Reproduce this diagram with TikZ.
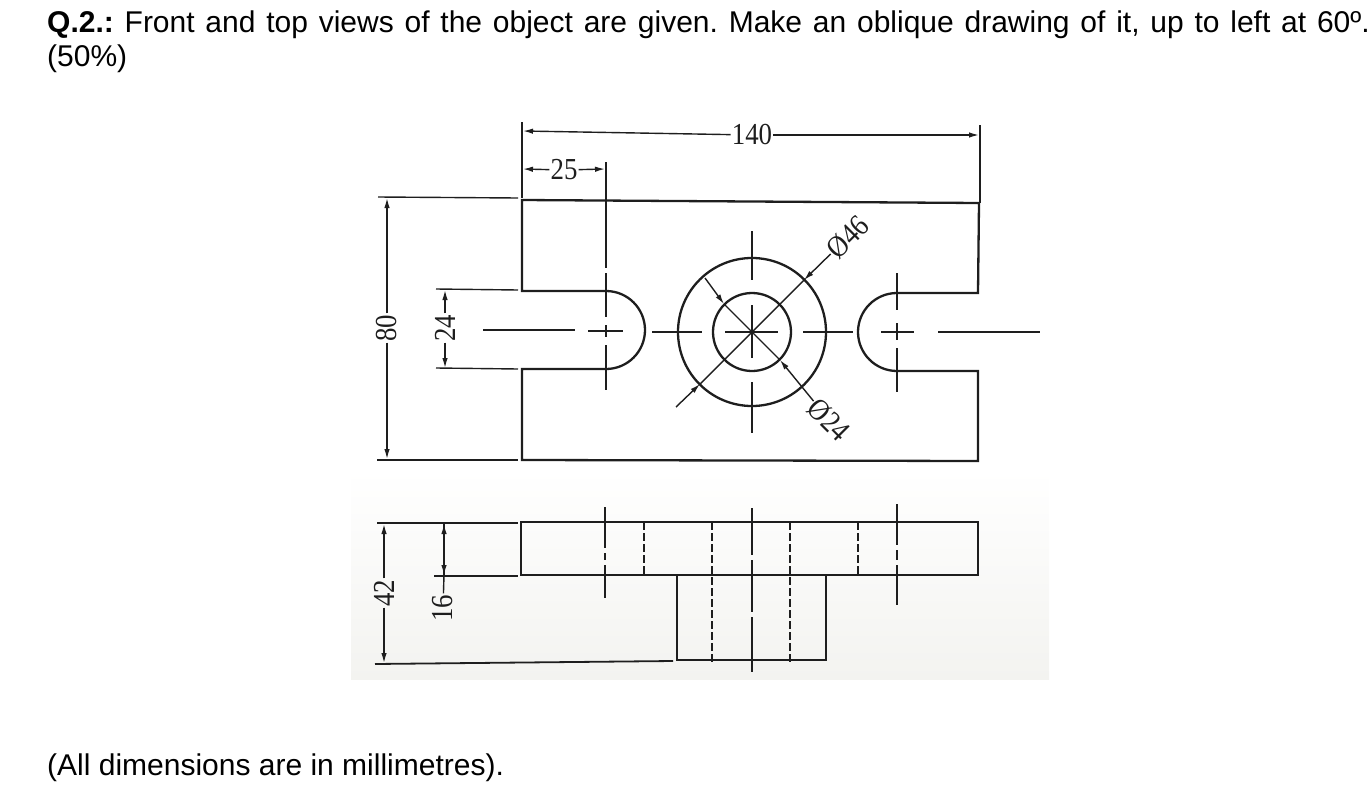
\documentclass[tikz,border=0pt]{standalone}
\usepackage{fontspec}
\setmainfont{Liberation Sans}
\newfontfamily\dimfont[FakeStretch=0.88]{Liberation Serif}
\usetikzlibrary{arrows.meta}
\definecolor{ink}{HTML}{1E1E1E}
\definecolor{paper}{HTML}{F3F3F0}
\tikzset{
  thickline/.style={line width=2.3pt,ink},
  thinline/.style={line width=1.4pt,ink},
  hiddenline/.style={line width=1.9pt,ink,dash pattern=on 8pt off 3pt},
  dimarrow/.style={thinline,-{Latex[length=10pt,width=5.5pt]}},
  dimtext/.style={font=\dimfont\fontsize{30.5}{31}\selectfont,text=ink,inner sep=1pt},
  plaintext/.style={font=\fontsize{30}{36}\selectfont\frenchspacing,text=black,inner sep=0pt,anchor=base west}
}
\begin{document}
\begin{tikzpicture}[x=1pt,y=-1pt]
\useasboundingbox (0,0) rectangle (1371,787);
\shade[top color=white,bottom color=paper] (351,470) rectangle (1049,679);
\node[plaintext] (question) at (47,32) {\spaceskip=10.8pt \textbf{Q.2.:} Front and top views of the object are given. Make an oblique drawing of it, up to left at 60º.};
\node[plaintext] (percent) at (47,66) {(50\%)};
\node[plaintext] (units) at (47,775) {(All dimensions are in millimetres).};
% front view
\draw[thickline] (522,200) -- (979,203) -- (978,293) -- (897,293) arc[start angle=270,end angle=90,radius=39] -- (978,371) -- (978,461) -- (522,460) -- (522,369) -- (606,369) arc[start angle=90,end angle=-90,radius=39] -- (522,291) -- cycle;
\draw[thickline] (752,332) circle[radius=74];
\draw[thickline] (752,332) circle[radius=39];
\draw[thinline] (483,330) to (575,330);
\draw[thinline] (588,331) to (623,331);
\draw[thinline] (652,332) to (702,332);
\draw[thinline] (725,332) to (778,332);
\draw[thinline] (803,332) to (853,332);
\draw[thinline] (881,332) to (914,332);
\draw[thinline] (938,332) to (1040,332);
\draw[thinline] (606,162) to (606,268);
\draw[thinline] (606,273) to (606,317);
\draw[thinline] (606,325) to (606,337);
\draw[thinline] (606,345) to (606,390);
\draw[thinline] (752,231) to (752,280);
\draw[thinline] (752,305) to (752,358);
\draw[thinline] (752,382) to (752,433);
\draw[thinline] (897,273) to (897,310);
\draw[thinline] (897,323) to (897,340);
\draw[thinline] (897,348) to (897,392);
% extension lines
\draw[thinline] (522,122) to (522,198);
\draw[thinline] (980,125) to (980,203);
\draw[thinline] (378,197) to (518,198);
\draw[thinline] (377,460) to (518,460);
\draw[thinline] (436,289) to (518,290);
\draw[thinline] (436,368) to (518,369);
% dimensions
\coordinate (a140l) at (523,131);
\coordinate (a140r) at (979,135);
\coordinate (a25l) at (523,169);
\coordinate (a25r) at (605,169);
\coordinate (a80t) at (387,198);
\coordinate (a80b) at (387,459);
\coordinate (a24t) at (445,290);
\coordinate (a24b) at (445,368);
\coordinate (a46l) at (700,384);
\coordinate (a46r) at (804,280);
\coordinate (e46l) at (676,407);
\coordinate (a24l) at (724,304);
\coordinate (e24l) at (705,278);
\coordinate (a24r) at (780,360);
\coordinate (a42t) at (384,524);
\coordinate (a42b) at (384,663);
\coordinate (a16t) at (444,524);
\coordinate (a16b) at (444,575);
\node[dimtext] (d140) at (752,135) {140};
\node[dimtext] (d25) at (564,170) {25};
\node[dimtext,rotate=90] (d80) at (387,328) {80};
\node[dimtext,rotate=90] (d24) at (445,328) {24};
\node[dimtext,rotate=45] (d46) at (848,237) {Ø46};
\node[dimtext,rotate=-45] (d24b) at (829,420) {Ø24};
\node[dimtext,rotate=90] (d42) at (384,593) {42};
\node[dimtext,rotate=90] (d16) at (443,608) {16};
\draw[dimarrow] (d140) to (a140l);
\draw[dimarrow] (d140) to (a140r);
\draw[dimarrow] (d25) to (a25l);
\draw[dimarrow] (d25) to (a25r);
\draw[dimarrow] (d80) to (a80t);
\draw[dimarrow] (d80) to (a80b);
\draw[dimarrow] (d24) to (a24t);
\draw[dimarrow] (d24) to (a24b);
\draw[dimarrow] (e46l) to (a46l);
\draw[dimarrow] (d46) to (a46r);
\draw[thinline] (a46l) to (a46r);
\draw[dimarrow] (e24l) to (a24l);
\draw[dimarrow] (d24b) to (a24r);
\draw[thinline] (a24l) to (a24r);
% top view
\draw[thickline] (521,522) rectangle (978,575);
\draw[thickline] (677,575) -- (677,660) -- (826,660) -- (826,575);
\draw[hiddenline] (644,522) to (644,575);
\draw[hiddenline] (858,522) to (858,575);
\draw[hiddenline] (712,522) to (712,664);
\draw[hiddenline] (790,522) to (790,664);
\draw[thinline] (605,507) to (605,548);
\draw[thinline] (605,553) to (605,560);
\draw[thinline] (605,565) to (605,598);
\draw[thinline] (752,508) to (752,555);
\draw[thinline] (752,560) to (752,612);
\draw[thinline] (752,617) to (752,672);
\draw[thinline] (897,504) to (897,545);
\draw[thinline] (897,550) to (897,560);
\draw[thinline] (897,565) to (897,605);
\draw[thinline] (377,523) to (518,523);
\draw[thinline] (434,576) to (518,576);
\draw[line width=1.8pt,ink] (375,664) to (673,661);
\draw[dimarrow] (d42) to (a42t);
\draw[dimarrow] (d42) to (a42b);
\draw[dimarrow] (a16b) to (a16t);
\draw[dimarrow] (a16t) to (a16b);
\draw[thinline] (d16) to (a16b);
\end{tikzpicture}
\end{document}
